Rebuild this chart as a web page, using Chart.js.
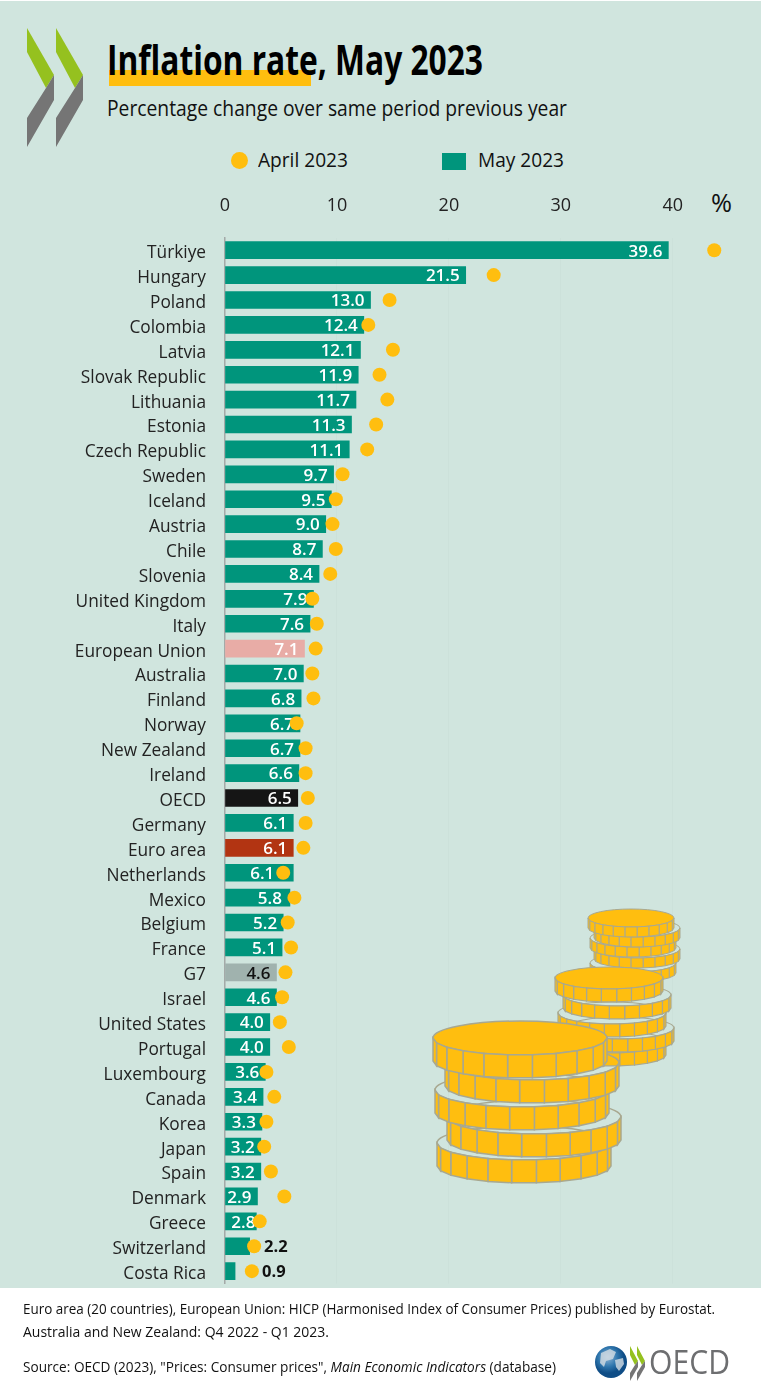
<!DOCTYPE html>
<html>
<head>
<meta charset="utf-8">
<title>Inflation rate, May 2023</title>
<script src="https://cdn.jsdelivr.net/npm/chart.js@4"></script>
<style>
  html, body { margin: 0; padding: 0; background: #fff; }
  #page { position: relative; width: 761px; height: 1394px; overflow: hidden; background: #fff; font-family: "Open Sans", sans-serif; color: #111; }
  #panel { position: absolute; left: 0; top: 1px; width: 761px; height: 1287px; background: #d0e5de; }
  #art, #chart { position: absolute; left: 0; top: 0; }
  .txt { position: absolute; white-space: nowrap; transform-origin: left center; line-height: 1; }
  #title { left: 107px; top: 38px; font-size: 42px; font-weight: 700; color: #000; }
  #highlight { position: absolute; left: 109px; top: 70px; width: 202px; height: 16px; background: #ffbe0f; }
  #subtitle { left: 107px; top: 98px; font-size: 21px; }
  #lgDot { position: absolute; left: 231px; top: 152px; width: 17px; height: 17px; border-radius: 50%; background: #ffbe0f; }
  #lgBox { position: absolute; left: 442px; top: 153px; width: 24px; height: 17px; background: #00957c; }
  #lgA { left: 258px; top: 150px; font-size: 20px; }
  #lgM { left: 478px; top: 150px; font-size: 20px; }
  #pct { left: 711px; top: 189px; font-size: 26px; }
  .foot { font-size: 14.5px; color: #111; }
  #f1 { left: 23px; top: 1302px; }
  #f2 { left: 23px; top: 1325px; }
  #f3 { left: 23px; top: 1360px; }
  #oecd { left: 649px; top: 1345px; font-size: 33px; color: #6d6e70; }
</style>
</head>
<body>
<div id="page">
  <div id="panel"></div>
  <div id="highlight"></div>
  <div class="txt fit" id="title" data-w="376">Inflation rate, May 2023</div>
  <div class="txt fit" id="subtitle" data-w="460">Percentage change over same period previous year</div>
  <div id="lgDot"></div>
  <div class="txt fit" id="lgA" data-w="90">April 2023</div>
  <div id="lgBox"></div>
  <div class="txt fit" id="lgM" data-w="86">May 2023</div>
  <div class="txt fit" id="pct" data-w="21">%</div>
  <canvas id="chart" width="761" height="1394"></canvas>
  <svg id="art" width="761" height="1394"></svg>
  <div class="txt foot fit" id="f1" data-w="692">Euro area (20 countries), European Union: HICP (Harmonised Index of Consumer Prices) published by Eurostat.</div>
  <div class="txt foot fit" id="f2" data-w="306">Australia and New Zealand: Q4 2022 - Q1 2023.</div>
  <div class="txt foot fit" id="f3" data-w="533">Source: OECD (2023), "Prices: Consumer prices", <i>Main Economic Indicators</i> (database)</div>
  <div class="txt fit" id="oecd" data-w="81">OECD</div>
</div>

<script>
// data
const categories = ['Türkiye', 'Hungary', 'Poland', 'Colombia', 'Latvia', 'Slovak Republic', 'Lithuania', 'Estonia', 'Czech Republic', 'Sweden', 'Iceland', 'Austria', 'Chile', 'Slovenia', 'United Kingdom', 'Italy', 'European Union', 'Australia', 'Finland', 'Norway', 'New Zealand', 'Ireland', 'OECD', 'Germany', 'Euro area', 'Netherlands', 'Mexico', 'Belgium', 'France', 'G7', 'Israel', 'United States', 'Portugal', 'Luxembourg', 'Canada', 'Korea', 'Japan', 'Spain', 'Denmark', 'Greece', 'Switzerland', 'Costa Rica'];
const may2023 = [39.6, 21.5, 13.0, 12.4, 12.1, 11.9, 11.7, 11.3, 11.1, 9.7, 9.5, 9.0, 8.7, 8.4, 7.9, 7.6, 7.1, 7.0, 6.8, 6.7, 6.7, 6.6, 6.5, 6.1, 6.1, 6.1, 5.8, 5.2, 5.1, 4.6, 4.6, 4.0, 4.0, 3.6, 3.4, 3.3, 3.2, 3.2, 2.9, 2.8, 2.2, 0.9];
const april2023 = [43.7, 24.0, 14.7, 12.8, 15.0, 13.8, 14.5, 13.5, 12.7, 10.5, 9.9, 9.6, 9.9, 9.4, 7.8, 8.2, 8.1, 7.8, 7.9, 6.4, 7.2, 7.2, 7.4, 7.2, 7.0, 5.2, 6.2, 5.6, 5.9, 5.4, 5.1, 4.9, 5.7, 3.7, 4.4, 3.7, 3.5, 4.1, 5.3, 3.1, 2.6, 2.4];
const xTicks = [0, 10, 20, 30, 40];

const TEAL = '#00957c', GOLD = '#ffbe0f';
const specialBars = { 'European Union': '#e8aca6', 'OECD': '#151515', 'Euro area': '#b23412', 'G7': '#a0b2ae' };
// labels the dot would sit on get nudged left, like the original
const labelNudge = { 'Netherlands': 13, 'Mexico': 2, 'Greece': -5 };
const FONT = '"Open Sans", sans-serif';

// squeeze the html text to the width it has in the reference
document.querySelectorAll('.fit').forEach(function (el) {
  const w = el.getBoundingClientRect().width;
  el.style.transform = 'scaleX(' + (Number(el.dataset.w) / w) + ')';
});

// bar values, drawn right after the bars so the dots stay on top
const barValues = {
  id: 'barValues',
  afterDatasetDraw(chart, args) {
    if (args.index !== 0) return;
    const ctx = chart.ctx;
    ctx.save();
    ctx.textBaseline = 'middle';
    args.meta.data.forEach(function (bar, i) {
      const name = categories[i];
      const text = may2023[i].toFixed(1);
      if (may2023[i] < 2.5) {
        ctx.fillStyle = '#111';
        ctx.font = '700 16.5px ' + FONT;
        ctx.textAlign = 'left';
        ctx.fillText(text, name === 'Costa Rica' ? 262 : 264, bar.y + 1.5);
        return;
      }
      ctx.fillStyle = name === 'G7' ? '#111' : '#fff';
      ctx.font = '600 17px ' + FONT;
      ctx.textAlign = 'right';
      ctx.fillText(text, bar.x - 6 - (labelNudge[name] || 0), bar.y + 1.5);
    });
    ctx.restore();
  }
};

new Chart(document.getElementById('chart').getContext('2d'), {
  type: 'bar',
  data: {
    labels: categories,
    datasets: [
      {
        label: 'May 2023',
        data: may2023,
        order: 2,
        barThickness: 17,
        backgroundColor: categories.map(c => specialBars[c] || TEAL)
      },
      {
        type: 'line',
        label: 'April 2023',
        data: april2023,
        order: 1,
        showLine: false,
        pointRadius: 7,
        pointBorderWidth: 0,
        pointBackgroundColor: GOLD
      }
    ]
  },
  options: {
    indexAxis: 'y',
    responsive: false,
    animation: false,
    layout: { padding: { top: 170, left: 0, right: 21, bottom: 110.4 } },
    plugins: { legend: { display: false }, tooltip: { enabled: false } },
    scales: {
      x: {
        position: 'top',
        min: 0,
        max: 46,
        afterFit: s => { s.height = 67.75; },
        afterBuildTicks: s => { s.ticks = xTicks.map(v => ({ value: v })); },
        grid: { color: '#cce1da', drawTicks: false },
        border: { display: false },
        ticks: { color: '#222', padding: 21, font: { family: FONT, size: 18 } }
      },
      y: {
        afterFit: s => { s.width = 225; },
        afterUpdate: s => {
          // country names sit a little below the bar centre in the reference
          const draw = s.drawLabels;
          s.drawLabels = function (area) {
            s.ctx.save();
            s.ctx.translate(0, 1.5);
            draw.call(s, area);
            s.ctx.restore();
          };
        },
        grid: { display: false, drawTicks: false },
        border: { color: '#a4aaa8', width: 1.5 },
        ticks: { color: '#222', padding: 19, autoSkip: false, font: { family: FONT, size: 17.3 } }
      }
    }
  },
  plugins: [barValues]
});

// decoration: logos and coins
const art = document.getElementById('art');
function add(tag, attrs) {
  const el = document.createElementNS('http://www.w3.org/2000/svg', tag);
  Object.keys(attrs).forEach(k => el.setAttribute(k, attrs[k]));
  art.appendChild(el);
  return el;
}

function chevron(dx, dy, s) {
  const pts = arr => arr.map(p => (dx + p[0] * s) + ',' + (dy + p[1] * s)).join(' ');
  add('polygon', { points: pts([[0, 0], [27, 47], [19, 60], [0, 24]]), fill: '#95c11f' });
  add('polygon', { points: pts([[27, 47], [27, 72], [0, 119], [0, 90], [19, 60]]), fill: '#757575' });
}
chevron(27, 28, 1);
chevron(56, 28, 1);

const COIN_LINE = '#a8a890';
function coin(cx, cy, rx, ry, h, top, lw) {
  const n = 11;
  add('ellipse', { cx: cx, cy: cy, rx: rx, ry: ry, fill: top ? GOLD : 'none', stroke: COIN_LINE, 'stroke-width': lw });
  for (let i = 0; i < n; i++) {
    const a0 = Math.PI * i / n, a1 = Math.PI * (i + 1) / n;
    const x0 = cx + rx * Math.cos(a0), y0 = cy + ry * Math.sin(a0);
    const x1 = cx + rx * Math.cos(a1), y1 = cy + ry * Math.sin(a1);
    add('polygon', {
      points: [x0, y0, x1, y1, x1, y1 + h, x0, y0 + h].join(' '),
      fill: GOLD, stroke: COIN_LINE, 'stroke-width': lw
    });
  }
}
function stack(coins, rx, ry, h, lw) {
  // bottom coin first so the upper ones overlap it
  for (let i = coins.length - 1; i >= 0; i--) {
    coin(coins[i][0], coins[i][1], rx, ry, h, i === 0, lw);
  }
}
stack([[631, 918], [637, 928], [633, 938], [637, 949], [633, 963]], 43, 9, 10, 1);
stack([[609, 978], [617, 995], [612, 1013], [620, 1028], [612, 1042]], 54, 11, 13, 1.2);
stack([[520, 1038], [532, 1063], [522, 1090], [534, 1117], [524, 1143]], 87, 17, 23, 1.5);

// OECD globe
const defs = add('defs', {});
const grad = document.createElementNS('http://www.w3.org/2000/svg', 'radialGradient');
grad.id = 'globe';
grad.setAttribute('cx', '0.4');
grad.setAttribute('cy', '0.35');
[['0', '#8fb6d6'], ['0.6', '#2f76ad'], ['1', '#0f4d86']].forEach(function (s) {
  const st = document.createElementNS('http://www.w3.org/2000/svg', 'stop');
  st.setAttribute('offset', s[0]);
  st.setAttribute('stop-color', s[1]);
  grad.appendChild(st);
});
defs.appendChild(grad);
add('circle', { cx: 611, cy: 1362, r: 16, fill: 'url(#globe)' });
add('path', { d: 'M601 1353 l9 -4 l6 3 l-3 7 l-7 2 l-2 6 l-4 -4 z M615 1360 l8 -2 l1 6 l-5 7 l-3 -4 z', fill: '#d5dde3', opacity: 0.8 });
[630, 637].forEach(function (x) {
  add('polygon', { points: [x, 1346, x + 8, 1361, x + 5, 1365, x, 1355].join(' '), fill: '#95c11f' });
  add('polygon', { points: [x + 8, 1361, x + 8, 1367, x, 1381, x, 1373, x + 5, 1365].join(' '), fill: '#757575' });
});
</script>
</body>
</html>
